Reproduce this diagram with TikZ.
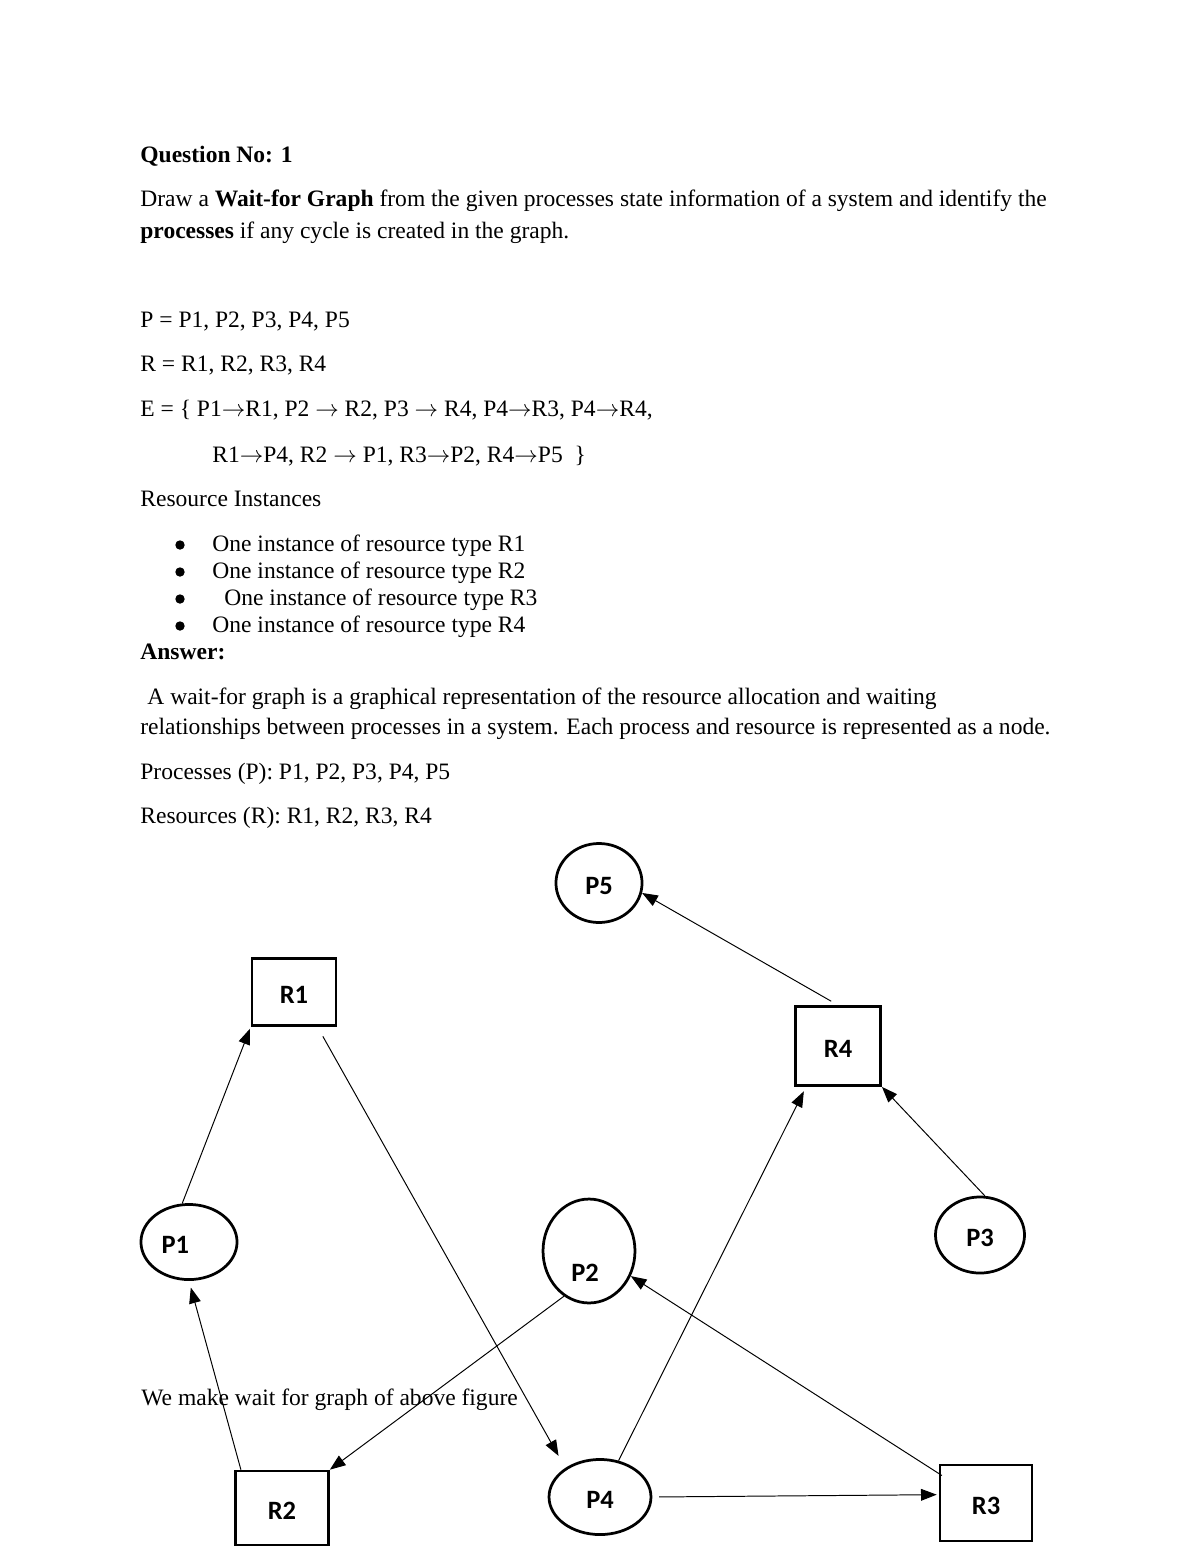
\documentclass[tikz,border=0pt]{standalone}
\usepackage{fontspec}
\setmainfont{Liberation Serif}
\newfontfamily\labfont{Carlito}
\usetikzlibrary{arrows.meta,shapes.geometric}
\newcommand{\ar}{\ensuremath{\rightarrow}}
\begin{document}
\begin{tikzpicture}[x=0.51pt,y=-0.51pt,
  txt/.style={anchor=base west,inner sep=0pt,font=\fontsize{12}{14}\selectfont},
  labf/.style={font=\labfont\bfseries\fontsize{13.5}{15}\selectfont,text height=11.6pt,text depth=0pt},
  res/.style={draw,line width=1.4pt,rectangle,inner sep=0pt,labf},
  proc/.style={draw,line width=1.4pt,ellipse,inner sep=0pt,labf},
  arr/.style={-{Triangle[length=8pt,width=6pt]},line width=0.5pt},
  bul/.style={circle,fill=black,inner sep=0pt,minimum size=4.8pt}]
\useasboundingbox (0,0) rectangle (1200,1553);

% ---- text ----
\node[txt] (t1) at (140,163) {\textbf{Question No: 1}};
\node[txt] (t2) at (140,207) {Draw a \textbf{Wait-for Graph} from the given processes state information of a system and identify the};
\node[txt] (t3) at (140,238) {\textbf{processes} if any cycle is created in the graph.};
\node[txt] (t4) at (140,327) {P = P1, P2, P3, P4, P5};
\node[txt] (t5) at (140,371) {R = R1, R2, R3, R4};
\node[txt] (t6) at (140,416) {E = \{ P1\ar R1, P2 \ar\ R2, P3 \ar\ R4, P4\ar R3, P4\ar R4,};
\node[txt] (t7) at (212,462) {R1\ar P4, R2 \ar\ P1, R3\ar P2, R4\ar P5 \ \}};
\node[txt] (t8) at (140,506) {Resource Instances};
\node[bul] (b1) at (180,545) {};
\node[bul] (b2) at (180,572) {};
\node[bul] (b3) at (180,599) {};
\node[bul] (b4) at (180,626) {};
\node[txt] (t9) at (212,551) {One instance of resource type R1};
\node[txt] (t10) at (212,578) {One instance of resource type R2};
\node[txt] (t11) at (224,605) {One instance of resource type R3};
\node[txt] (t12) at (212,632) {One instance of resource type R4};
\node[txt] (t13) at (140,659) {\textbf{Answer:}};
\node[txt] (t14) at (147,704) {A wait-for graph is a graphical representation of the resource allocation and waiting};
\node[txt] (t15) at (140,734) {relationships between processes in a system. Each process and resource is represented as a node.};
\node[txt] (t16) at (140,779) {Processes (P): P1, P2, P3, P4, P5};
\node[txt] (t17) at (140,823) {Resources (R): R1, R2, R3, R4};
\node[txt] (t18) at (141,1405) {We make wait for graph of above figure};

% ---- graph nodes ----
\node[proc,minimum width=43.9pt,minimum height=40.3pt] (P5) at (599,883) {P5};
\node[res,minimum width=42.8pt,minimum height=34.2pt] (R1) at (294,992) {R1};
\node[res,minimum width=43.4pt,minimum height=40.3pt] (R4) at (838,1046) {R4};
\node[proc,minimum width=49pt,minimum height=38.3pt,label={[labf,xshift=-7pt]center:P1}] (P1) at (189,1242) {};
\node[proc,minimum width=46.9pt,minimum height=53pt,label={[labf,yshift=-9.5pt,xshift=-2pt]center:P2}] (P2) at (589,1251) {};
\node[proc,minimum width=45.4pt,minimum height=38.8pt] (P3) at (980,1235) {P3};
\node[res,minimum width=47.4pt,minimum height=37.7pt] (R2) at (282,1508) {R2};
\node[proc,minimum width=52pt,minimum height=38.3pt] (P4) at (600,1497) {P4};
\node[res,minimum width=46.9pt,minimum height=38.8pt] (R3) at (986,1503) {R3};

% ---- connectors ----
\draw[arr,shorten >=1pt] (P1.100) -- (R1.south west);
\draw[arr,shorten <=5.5pt,shorten >=7pt] (R1.-56) -- (P4.140);
\draw[arr,shorten >=3.5pt] (R2.137) -- (P1.270);
\draw[arr] (P2.241) -- (R2.north east);
\draw[arr,shorten >=2.5pt] (P4.63) -- (R4.-128);
\draw[arr] (P3.83) -- (R4.south east);
\draw[arr,shorten <=4pt] (R4.north) -- (P5.-13);
\draw[arr,shorten <=-2pt] (R3.148) -- (P2.-31);
\draw[arr,shorten <=3.5pt,shorten >=1pt] (P4.east) -- (R3.170);
\end{tikzpicture}
\end{document}
